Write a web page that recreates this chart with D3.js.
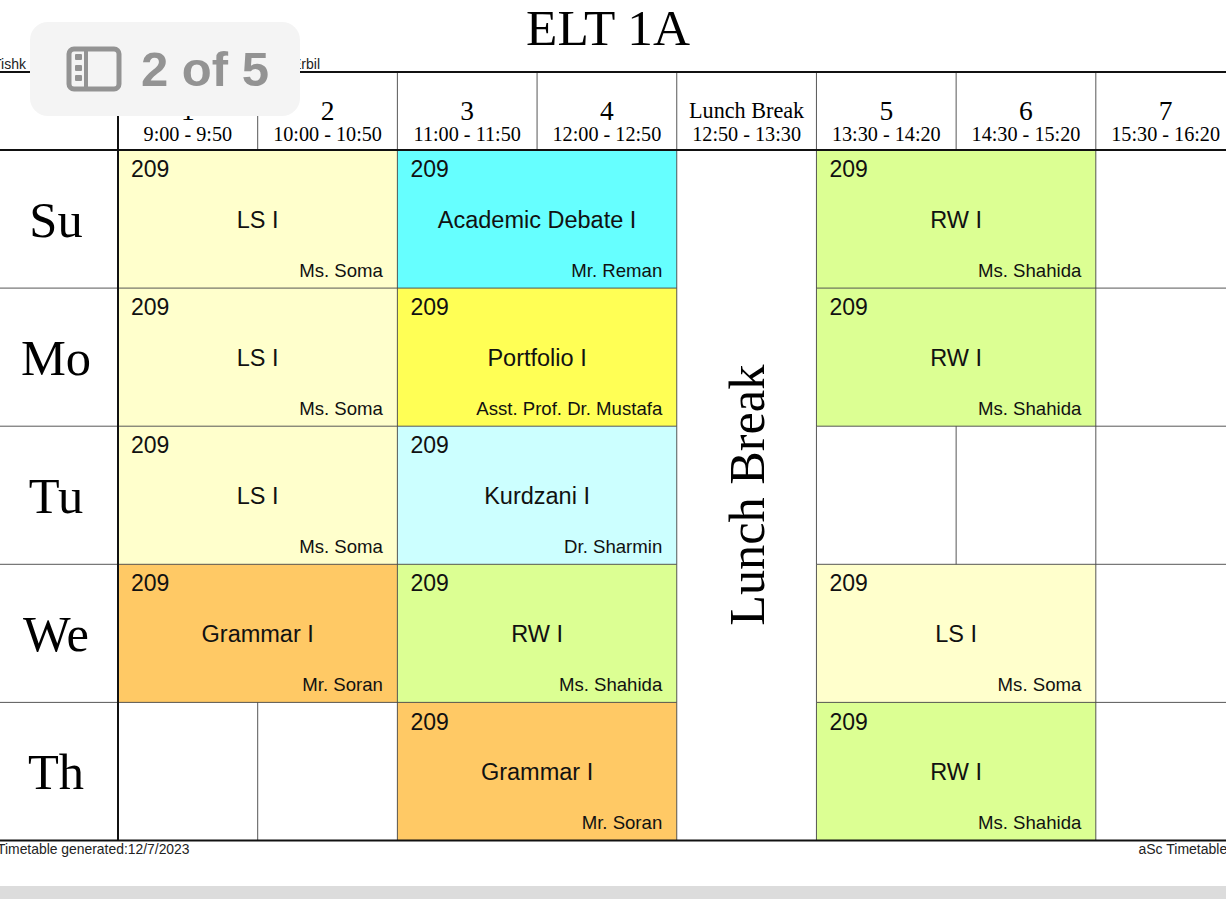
<!DOCTYPE html>
<html>
<head>
<meta charset="utf-8">
<script src="https://cdn.jsdelivr.net/npm/d3@7"></script>
<style>
  html, body { margin: 0; padding: 0; background: #fff; overflow: hidden; }
  svg { display: block; }
  .serif { font-family: "Liberation Serif", serif; }
  .sans { font-family: "Liberation Sans", sans-serif; }
</style>
</head>
<body>
<svg id="chart" width="1226" height="899"></svg>
<script>
const title = "ELT 1A";
const days = ["Su", "Mo", "Tu", "We", "Th"];
const columns = ["1", "2", "3", "4", "Lunch Break", "5", "6", "7"];
const times = ["9:00 - 9:50", "10:00 - 10:50", "11:00 - 11:50", "12:00 - 12:50", "12:50 - 13:30", "13:30 - 14:20", "14:30 - 15:20", "15:30 - 16:20"];
const room = "209";

// day, first column, last column, subject, teacher
const lessons = [
  ["Su", "1", "2", "LS I", "Ms. Soma"],
  ["Su", "3", "4", "Academic Debate I", "Mr. Reman"],
  ["Su", "5", "6", "RW I", "Ms. Shahida"],
  ["Mo", "1", "2", "LS I", "Ms. Soma"],
  ["Mo", "3", "4", "Portfolio I", "Asst. Prof. Dr. Mustafa"],
  ["Mo", "5", "6", "RW I", "Ms. Shahida"],
  ["Tu", "1", "2", "LS I", "Ms. Soma"],
  ["Tu", "3", "4", "Kurdzani I", "Dr. Sharmin"],
  ["We", "1", "2", "Grammar I", "Mr. Soran"],
  ["We", "3", "4", "RW I", "Ms. Shahida"],
  ["We", "5", "6", "LS I", "Ms. Soma"],
  ["Th", "3", "4", "Grammar I", "Mr. Soran"],
  ["Th", "5", "6", "RW I", "Ms. Shahida"]
];

const subjects = ["LS I", "Academic Debate I", "RW I", "Portfolio I", "Kurdzani I", "Grammar I"];
const subjectColors = ["#ffffcc", "#66ffff", "#dcff93", "#ffff55", "#ccffff", "#ffc965"];

const svg = d3.select("#chart");
const x = d3.scaleBand().domain(columns).range([118, 1235.5]);
const y = d3.scaleBand().domain(days).range([150, 840.5]);
const fill = d3.scaleOrdinal().domain(subjects).range(subjectColors);
const headTop = 72, headBottom = 150, left = 118;

// lesson blocks go under the grid lines
const cells = svg.append("g").selectAll("g").data(lessons).join("g")
  .attr("transform", d => `translate(${x(d[1])},${y(d[0])})`);
const cellW = d => x(d[2]) + x.bandwidth() - x(d[1]);

cells.append("rect")
  .attr("width", cellW)
  .attr("height", y.bandwidth())
  .attr("fill", d => fill(d[3]));
cells.append("text").attr("class", "sans")
  .attr("x", 13).attr("y", 27.2)
  .attr("font-size", 23).attr("fill", "#111")
  .text(room);
cells.append("text").attr("class", "sans")
  .attr("x", d => cellW(d) / 2).attr("y", 77.5)
  .attr("text-anchor", "middle")
  .attr("font-size", 23.5).attr("fill", "#111")
  .text(d => d[3]);
cells.append("text").attr("class", "sans")
  .attr("x", d => cellW(d) - 14.5).attr("y", 126.6)
  .attr("text-anchor", "end")
  .attr("font-size", 18.6).attr("fill", "#111")
  .text(d => d[4]);

// thin vertical lines, skipped where a lesson spans the column edge
const grid = svg.append("g").attr("stroke", "#444").attr("stroke-width", 0.9);
columns.slice(1).forEach((c, i) => {
  grid.append("line")
    .attr("x1", x(c)).attr("x2", x(c))
    .attr("y1", headTop).attr("y2", headBottom);
  days.forEach(day => {
    const covered = lessons.some(l => l[0] === day &&
      columns.indexOf(l[1]) <= i && columns.indexOf(l[2]) > i);
    if (covered) return;
    grid.append("line")
      .attr("x1", x(c)).attr("x2", x(c))
      .attr("y1", y(day)).attr("y2", y(day) + y.bandwidth());
  });
});

// row separators, not across the lunch column
days.slice(1).forEach(day => {
  [[0, x("Lunch Break")], [x("5"), 1226]].forEach(([a, b]) => {
    grid.append("line")
      .attr("x1", a).attr("x2", b)
      .attr("y1", y(day)).attr("y2", y(day));
  });
});

// heavy frame
const heavy = svg.append("g").attr("stroke", "#111").attr("stroke-width", 2);
heavy.append("line").attr("x1", 0).attr("x2", 1226).attr("y1", headTop).attr("y2", headTop);
heavy.append("line").attr("x1", 0).attr("x2", 1226).attr("y1", headBottom).attr("y2", headBottom);
heavy.append("line").attr("x1", 0).attr("x2", 1226).attr("y1", 840.5).attr("y2", 840.5);
heavy.append("line").attr("x1", left).attr("x2", left).attr("y1", headTop).attr("y2", 840.5);

// header
svg.append("text").attr("class", "serif")
  .attr("x", 608).attr("y", 45)
  .attr("text-anchor", "middle").attr("font-size", 51.3).attr("fill", "#000")
  .text(title);

const head = svg.append("g").selectAll("g").data(columns).join("g")
  .attr("transform", d => `translate(${x(d) + x.bandwidth() / 2},0)`);
head.append("text").attr("class", "serif")
  .attr("y", d => d === "Lunch Break" ? 118 : 120)
  .attr("text-anchor", "middle")
  .attr("font-size", d => d === "Lunch Break" ? 22.2 : 27.5)
  .attr("fill", "#000")
  .text(d => d);
head.append("text").attr("class", "serif")
  .attr("y", 141)
  .attr("text-anchor", "middle").attr("font-size", 20.2).attr("fill", "#000")
  .text((d, i) => times[i]);

// day names
svg.append("g").selectAll("text").data(days).join("text")
  .attr("class", "serif")
  .attr("x", 56)
  .attr("y", d => y(d) + y.bandwidth() / 2 + 17.5)
  .attr("text-anchor", "middle").attr("font-size", 50.5).attr("fill", "#000")
  .text(d => d);

// rotated lunch label
const lunchX = x("Lunch Break") + x.bandwidth() / 2;
svg.append("text").attr("class", "serif")
  .attr("transform", `translate(${lunchX + 17},${(y("Su") + 840.5) / 2}) rotate(-90)`)
  .attr("text-anchor", "middle").attr("font-size", 50.3).attr("fill", "#000")
  .text("Lunch Break");

// small print
const small = [
  { x: -7, y: 69, s: 14, a: "start", t: "Tishk International University" },
  { x: 320, y: 69, s: 14, a: "end", t: "Erbil" },
  { x: -3, y: 854, s: 13.9, a: "start", t: "Timetable generated:12/7/2023" },
  { x: 1138.5, y: 854, s: 14, a: "start", t: "aSc Timetables" }
];
svg.append("g").selectAll("text").data(small).join("text")
  .attr("class", "sans")
  .attr("x", d => d.x).attr("y", d => d.y)
  .attr("text-anchor", d => d.a)
  .attr("font-size", d => d.s).attr("fill", "#222")
  .text(d => d.t);

// page viewer bar at the bottom
svg.append("rect").attr("x", 0).attr("y", 886).attr("width", 1226).attr("height", 13).attr("fill", "#dcdcdc");

// "2 of 5" badge over the page
const badge = svg.append("g");
badge.append("rect")
  .attr("x", 30).attr("y", 22).attr("width", 270).attr("height", 94)
  .attr("rx", 18).attr("fill", "#f4f4f4");
badge.append("rect")
  .attr("x", 69).attr("y", 49).attr("width", 50).attr("height", 40)
  .attr("rx", 5).attr("fill", "none").attr("stroke", "#939393").attr("stroke-width", 5);
badge.append("line")
  .attr("x1", 86).attr("x2", 86).attr("y1", 49).attr("y2", 89)
  .attr("stroke", "#939393").attr("stroke-width", 4);
badge.selectAll(".dot").data([57, 68, 78]).join("rect")
  .attr("class", "dot")
  .attr("x", 75).attr("y", d => d - 3).attr("width", 7).attr("height", 6)
  .attr("rx", 1).attr("fill", "#939393");
badge.append("text").attr("class", "sans")
  .attr("x", 141).attr("y", 86)
  .attr("font-size", 49).attr("font-weight", 700).attr("fill", "#939393")
  .text("2 of 5");
</script>
</body>
</html>
